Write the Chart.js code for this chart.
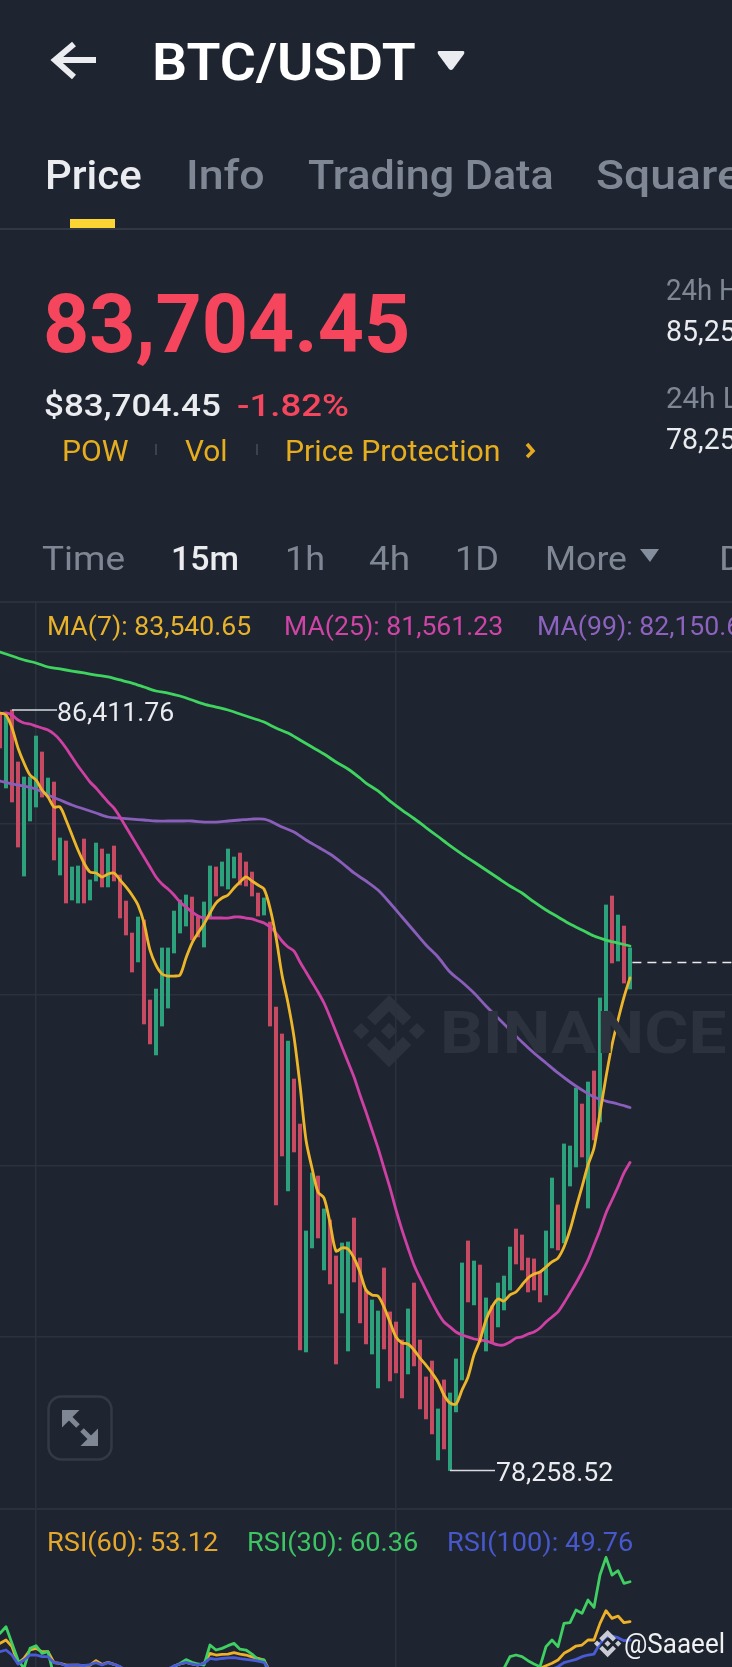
<!DOCTYPE html>
<html><head><meta charset="utf-8">
<script src="https://cdn.jsdelivr.net/npm/chart.js@4/dist/chart.umd.min.js"></script>
<style>
html,body{margin:0;padding:0;background:#1F2530}
#page{position:relative;width:732px;height:1667px;overflow:hidden;background:#1F2530;font-family:Roboto,sans-serif}
.t{position:absolute;white-space:nowrap;transform-origin:0 0;line-height:1}
.abs{position:absolute}
canvas{position:absolute;left:0}
</style></head><body>
<div id="page">
<svg class="abs" style="left:0;top:0" width="732" height="1667">
  <path d="M96 60H56M74 44L55 60L74 77" fill="none" stroke="#EAECEF" stroke-width="6"/>
  <path d="M439 51H463Q465 51 464 54L453 69Q451 71 449 69L438 54Q437 51 439 51Z" fill="#EAECEF"/>
  <rect x="70" y="219" width="45" height="9" fill="#FCD535"/>
  <rect x="0" y="228" width="732" height="2" fill="#303845"/>
  <rect x="155" y="444" width="2" height="11" fill="#3C4350"/>
  <rect x="256" y="444" width="2" height="11" fill="#3C4350"/>
  <path d="M527 444L533 451L527 457" fill="none" stroke="#E6A91F" stroke-width="3.5"/>
  <path d="M640 549H659L650 562Z" fill="#848E9C"/>
  <rect x="0" y="601" width="732" height="2" fill="#2A313D"/>
  <rect x="0" y="1508" width="732" height="2" fill="#2A313D"/>
  <g transform="translate(353 995) scale(0.57)" fill="#2C323E"><path d="M38.73 53.2l24.59-24.58 24.6 24.6 14.3-14.31L63.32 0 24.42 38.9zM0 63.31l14.3-14.31 14.31 14.31-14.31 14.3zM38.73 73.41l24.59 24.59 24.6-24.6 14.31 14.29-38.9 38.91-38.91-38.88zM98 63.31l14.3-14.31 14.31 14.3-14.31 14.32zM77.83 63.3L63.32 48.78 52.59 59.51l-1.24 1.23-2.54 2.54 14.51 14.5 14.5-14.47z"/></g>
</svg>
<canvas id="main" width="732" height="906" style="top:602px;width:732px;height:906px"></canvas>
<canvas id="rsi" width="732" height="158" style="top:1509px;width:732px;height:158px"></canvas>
<svg class="abs" style="left:0;top:0;pointer-events:none" width="732" height="1667">
  <rect x="48.5" y="1396.5" width="63" height="63" rx="13" fill="none" stroke="#333A46" stroke-width="2.5"/>
  <path d="M62 1410H79.5L62 1427.5ZM98 1446H80.5L98 1428.5Z" fill="#7F8794"/>
  <path d="M70 1418L78 1426M82 1430L90 1438" stroke="#7F8794" stroke-width="5"/>
  <g transform="translate(594 1630) scale(0.215)" fill="#C9CCD3"><path d="M38.73 53.2l24.59-24.58 24.6 24.6 14.3-14.31L63.32 0 24.42 38.9zM0 63.31l14.3-14.31 14.31 14.31-14.31 14.3zM38.73 73.41l24.59 24.59 24.6-24.6 14.31 14.29-38.9 38.91-38.91-38.88zM98 63.31l14.3-14.31 14.31 14.3-14.31 14.32zM77.83 63.3L63.32 48.78 52.59 59.51l-1.24 1.23-2.54 2.54 14.51 14.5 14.5-14.47z"/></g>
</svg>
</div>
<script>
// ---- chart data (BTC/USDT 15m candles) ----
const candleHigh=[86380,86358,86412,85855,85694,85694,86133,85962,85683,85640,
85040,85008,84729,84740,85029,84590,84986,84922,84868,84954,
84643,84364,84021,84193,84161,83303,83421,83861,83861,84257,
84375,84429,84407,84193,84354,84740,84729,84783,84922,84836,
84879,84783,84675,84450,84397,84139,83228,82939,82864,82456,
81974,80827,81449,81416,81063,80945,80559,80698,80709,80966,
80537,80194,80087,79969,80430,79959,79851,79658,79991,80269,
79658,79262,79433,78919,79230,79090,79455,80484,80720,80505,
80462,80109,80023,80269,80344,80655,80848,80784,80537,80527,
80387,80827,81395,81106,81760,81738,82360,82188,82424,82542,
83325,84322,84418,84214,84096,83861];
const candleLow=[86005,85576,85426,84943,84632,85222,85372,85479,85479,84804,
84643,84343,84375,84343,84343,84375,84579,84515,84515,84579,
84182,84000,83603,83711,83046,82832,82714,83024,83217,83807,
84021,84096,83946,83979,83871,84193,84418,84525,84493,84611,
84536,84525,84418,84204,84214,83024,81106,81631,81256,81674,
79551,79530,80645,80752,80409,80259,79401,79948,79540,80280,
79841,79616,79508,79144,79562,79219,79305,79037,79294,79380,
78919,78812,78651,78372,78490,78258.52,78887,79230,80066,80034,
79637,79540,79626,79798,79980,80194,80473,80409,80173,80194,
80066,80141,80645,80623,80698,81309,81513,81620,81073,81802,
81995,83175,83700,83721,83485,83421];
const candleUp=[0,1,0,0,1,1,1,0,1,0,
1,0,1,1,0,1,1,0,1,0,
0,0,0,1,0,0,1,1,1,1,
1,1,0,0,1,1,0,1,1,1,
0,0,0,0,1,0,0,0,1,0,
0,1,1,0,1,0,0,1,1,0,
0,0,1,1,0,0,0,0,1,0,
0,0,0,1,0,1,1,1,0,1,
0,1,0,1,1,1,0,0,0,0,
0,1,1,0,1,1,1,0,1,0,
1,1,0,1,0,1];
const ma7=[86380,86358,86219,86005,85844,85715,85662,85554,85479,85372,
85372,85233,85072,84911,84772,84675,84665,84622,84654,84665,
84590,84515,84429,84322,84129,83839,83678,83582,83560,83560,
83571,83753,83914,84021,84118,84236,84343,84397,84429,84504,
84568,84622,84579,84536,84493,84289,83979,83571,83271,82907,
82392,81802,81502,81245,81181,80913,80612,80645,80634,80537,
80387,80194,80141,80130,80012,79851,79691,79626,79616,79551,
79465,79390,79305,79208,79069,78983,78972,79122,79262,79498,
79658,79873,80012,80098,80076,80141,80173,80248,80323,80366,
80387,80441,80495,80537,80655,80838,81073,81299,81534,81717,
82092,82478,82821,83089,83335,83540.65];
const ma25=[86369,86380,86358,86305,86273,86262,86240,86219,86198,86155,
86090,86005,85908,85812,85726,85640,85576,85501,85426,85361,
85265,85158,85051,84943,84836,84729,84622,84547,84493,84429,
84354,84300,84247,84204,84182,84182,84182,84182,84182,84193,
84193,84182,84172,84150,84129,84086,84021,83936,83871,83828,
83711,83603,83496,83389,83271,83121,82960,82799,82639,82478,
82285,82103,81910,81717,81502,81288,81052,80838,80645,80462,
80323,80194,80066,79948,79851,79798,79744,79712,79691,79669,
79658,79648,79626,79605,79605,79637,79680,79691,79723,79744,
79787,79851,79905,79959,80055,80162,80269,80387,80516,80677,
80838,81020,81159,81299,81449,81561.23];
const ma99Candle=[0,2,4,6,8,10,12,14,16,18,20,22,24,26,28,30,32,34,36,38,40,42,44,45,47,49,51,53,55,57,59,61,63,65,67,69,71,73,75,77,79,81,83,85,87,89,91,93,95,97,99,101,103,105];
const ma99Value=[85651,85619,85597,85565,85501,85447,85394,85351,85308,85265,85254,85243,85233,85222,85222,85222,85222,85211,85211,85222,85233,85243,85243,85222,85158,85104,85018,84943,84868,84772,84665,84579,84482,84343,84193,84043,83893,83764,83603,83496,83378,83239,83110,82982,82853,82735,82628,82521,82424,82338,82263,82220,82188,82150.6];
const maLongCandle=[0,2,4,6,8,10,12,14,16,18,20,22,24,26,28,30,32,34,36,38,40,42,44,46,48,50,52,54,56,58,60,61,63,65,67,69,71,73,75,77,79,81,83,85,87,89,91,93,95,97,99,101,103,105];
const maLongValue=[87034,86991,86948,86916,86873,86852,86830,86809,86787,86766,86734,86701,86659,86616,86594,86562,86519,86476,86444,86412,86369,86326,86283,86219,86165,86090,86015,85940,85855,85780,85683,85629,85544,85436,85340,85249,85152,85056,84959,84868,84783,84697,84611,84525,84450,84354,84268,84193,84118,84054,83989,83946,83914,83882];
const priceGridTicks=[87034,85190,83357,81524,79691];
const timeGridCandles=[6,66];
const lastPrice=83704.45;
const highPrice=86411.76, highCandle=2;
const lowPrice=78258.52, lowCandle=75;
const rsi60=[49.15,49.76,48.55,45.52,46.43,47.94,48.24,47.64,47.64,45.64,
45.52,45.2,45.2,45.2,45.09,45.2,46,45.3,45.7,45.34,
44.9,44,null,null,null,null,null,null,44,45.03,
45.4,45.7,45.4,45.21,45.5,47.34,47.03,47.15,47.2,47.46,
47.21,47.03,46.7,46.43,46.12,44,null,null,null,null,
null,null,null,null,null,null,null,null,null,null,
null,null,null,null,null,null,null,null,null,null,
null,null,null,null,null,null,null,null,null,null,
null,null,null,null,null,null,null,null,44.3,44.6,
44.61,45.09,45.52,46.12,47.34,47.94,48.67,48.85,49.76,49.76,
52.79,55.09,53.7,54.12,52.91,53.12];
const rsi30=[50.97,52.18,49.15,46.12,44.6,48.24,48.73,47.34,47.64,43.1,
null,null,null,null,null,null,null,null,null,null,
null,null,null,null,null,null,null,null,43.7,44.9,
45.5,46.2,45.7,45.4,45.2,48.85,47.94,48.24,48.73,49.15,
48.1,47.94,47.2,46.2,46.12,43.1,null,null,null,null,
null,null,null,null,null,null,null,null,null,null,
null,null,null,null,null,null,null,null,null,null,
null,null,null,null,null,null,null,null,null,null,
null,null,null,43.7,44.6,46.73,47.03,46.73,46,45.4,
44.91,48.55,49.76,48.55,52.79,52.91,55.21,54.61,57.03,55.7,
61.58,64.79,61.58,62.37,60.06,60.36];
const rsi100=[47.64,47.94,47.03,45.4,46.12,47.03,47.03,46.73,46.73,45.64,
45.52,45.09,45.2,45.21,45.09,45.3,45.64,45.21,45.64,45.34,
44.91,44.3,null,null,null,null,null,null,44.5,45.03,
45.4,45.7,45.4,45.21,45.52,46.43,46.24,46.4,46.5,46.55,
46.37,46.24,46.1,45.94,45.7,44.2,null,null,null,null,
null,null,null,null,null,null,null,null,null,null,
null,null,null,null,null,null,null,null,null,null,
null,null,null,null,null,null,null,null,null,null,
null,null,null,null,null,null,null,null,null,null,
null,null,44.4,44.91,45.64,45.94,46.24,46.73,47.03,47.21,
49.15,50.37,50.49,50.18,49.64,49.76];
const labels=[...Array(123).keys()];

// ---- page texts: [text,left,right,baseline,size,weight,color] ----
const G='#7F8795',W='#EAECEF',R='#F6465D',Y='#E6AE1E';
const texts=[
['BTC/USDT',154,413,80,52,600,'#FFFFFF'],
['Price',47,140,188.5,41,500,W],['Info',188,263,188.5,41,500,G],['Trading Data',310,552,188.5,41,500,G],['Square',598,740,188.5,41,500,G],
['83,704.45',47,407,352,81,700,R],
['$83,704.45',45,219,415.5,32,500,W],['-1.82%',238,347,415.5,32,500,R],
['POW',63,127,460.5,29,400,Y],['Vol',186,226,460.5,29,400,Y],['Price Protection',286,499,460.5,29,400,Y],
['24h H',667,737,300,29.5,400,G],['85,25',667,734,341,29.5,400,W],['24h L',667,737,408,29.5,400,G],['78,25',667,734,449,29.5,400,W],
['Time',44,124,570,33.5,400,G],['15m',173,238,570,33.5,500,W],['1h',287,324,570,33.5,400,G],['4h',371,409,570,33.5,400,G],['1D',457,498,570,33.5,400,G],['More',547,626,570,33.5,400,G],['D',721,743,570,33.5,400,G],
['MA(7): 83,540.65',48,250,635,25,400,'#E8B32B'],['MA(25): 81,561.23',285,502,635,25,400,'#CF44A6'],['MA(99): 82,150.65',538,755,635,25,400,'#8C62BE'],
['86,411.76',58,173,720.5,25,400,W],['78,258.52',497,612,1481,25,400,W],
['BINANCE',443,724,1053,60,700,'#2C323E'],
['RSI(60): 53.12',48.5,217.5,1551,26,400,'#E5A82C'],['RSI(30): 60.36',248,417,1551,26,400,'#3CC562'],['RSI(100): 49.76',448,632,1551,26,400,'#4758CC'],
['@Saaeel',625.5,724,1653,28,400,'#F0F1F3']
];
const page=document.getElementById('page');
texts.forEach(([s,l0,r0,b,size,w,c])=>{
  const l=l0-0.045*size, r=r0+0.045*size;
  const e=document.createElement('span');e.className='t';e.textContent=s;
  e.style.cssText=`left:${l}px;top:0;font-size:${size}px;font-weight:${w};color:${c}`;
  e.style.zIndex=(s==='BINANCE')?0:3;
  const m=document.createElement('i');m.style.cssText='display:inline-block;width:0;height:0';e.appendChild(m);
  page.appendChild(e);
  const off=m.getBoundingClientRect().top-e.getBoundingClientRect().top;
  const wd=e.getBoundingClientRect().width;
  e.style.top=(b-off)+'px';
  e.style.transform=`scaleX(${(r-l)/wd})`;
});

const sparse=(idx,val)=>{const a=new Array(106).fill(null);idx.forEach((k,i)=>a[k]=val[i]);return a;};
const pick=(up)=>candleHigh.map((h,i)=>candleUp[i]===up?[candleLow[i],h]:null);
const GRID='#2B323E';
const line=(data,color,order,extra)=>Object.assign({type:'line',data,borderColor:color,borderWidth:2.8,pointRadius:0,tension:0.3,order,spanGaps:false,borderJoinStyle:'round',borderCapStyle:'round'},extra||{});
const xAxis={type:'category',offset:false,display:true,
  grid:{display:true,offset:false,color:GRID,lineWidth:1.5,drawTicks:false},border:{display:false},ticks:{display:false},
  afterBuildTicks:s=>{s.ticks=timeGridCandles.map(v=>({value:v}));}};

const marks={id:'marks',afterDatasetsDraw(c){
  const {ctx,scales:{x,y}}=c;ctx.save();ctx.lineWidth=1.5;
  ctx.strokeStyle='#D8DADF';
  [[highCandle,highCandle+7.5,highPrice],[lowCandle,lowCandle+7.5,lowPrice]].forEach(([a,b,p])=>{
    ctx.beginPath();ctx.moveTo(x.getPixelForValue(a),y.getPixelForValue(p));ctx.lineTo(x.getPixelForValue(b),y.getPixelForValue(p));ctx.stroke();});
  ctx.setLineDash([9,6]);ctx.strokeStyle='#E8E9EC';
  ctx.beginPath();ctx.moveTo(x.getPixelForValue(105.4),y.getPixelForValue(lastPrice));ctx.lineTo(x.getPixelForValue(122),y.getPixelForValue(lastPrice));ctx.stroke();
  ctx.restore();}};

new Chart(document.getElementById('main'),{type:'bar',
 data:{labels,datasets:[
  {data:pick(0),backgroundColor:'#C64A62',barThickness:3.4,grouped:false,order:10},
  {data:pick(1),backgroundColor:'#2DA07C',barThickness:3.4,grouped:false,order:10},
  line(sparse(maLongCandle,maLongValue),'#3FD35F',4,{spanGaps:true}),
  line(sparse(ma99Candle,ma99Value),'#8A5EBB',3,{spanGaps:true}),
  line(ma25,'#CF40A4',2),
  line(ma7,'#EDB62A',1)
 ]},
 options:{responsive:false,animation:false,devicePixelRatio:1,layout:{padding:0},
  plugins:{legend:{display:false},tooltip:{enabled:false}},
  scales:{x:xAxis,y:{type:'linear',min:77857,max:87570,
    grid:{color:GRID,lineWidth:1.5,drawTicks:false},border:{display:false},ticks:{display:false},
    afterBuildTicks:s=>{s.ticks=priceGridTicks.map(v=>({value:v}));}}}},
 plugins:[marks]});

new Chart(document.getElementById('rsi'),{type:'line',
 data:{labels,datasets:[
  line(rsi60,'#EDB12A',3),
  line(rsi30,'#3FCF62',2),
  line(rsi100,'#4A5BD6',1)
 ].map(d=>Object.assign(d,{tension:0}))},
 options:{responsive:false,animation:false,devicePixelRatio:1,layout:{padding:0},
  plugins:{legend:{display:false},tooltip:{enabled:false}},
  scales:{x:xAxis,y:{type:'linear',min:44.85,max:73.6,display:false}}}});
</script>
</body></html>
